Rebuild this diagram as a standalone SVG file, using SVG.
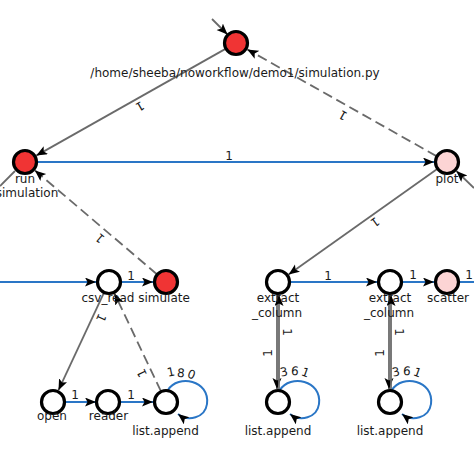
<svg xmlns="http://www.w3.org/2000/svg" width="474" height="474" viewBox="0 0 474 474">
<style>
.bg{fill:#ffffff}
.n{stroke:#000;stroke-width:3.2}
.red{fill:#f03434}
.pink{fill:#fcd4d4}
.white{fill:#ffffff}
.g{stroke:#6a6a6a;stroke-width:1.8;fill:none}
.d{stroke:#6a6a6a;stroke-width:1.8;fill:none;stroke-dasharray:10,5}
.b{stroke:#2a76c6;stroke-width:2;fill:none}
.lab{font-family:"DejaVu Sans","Liberation Sans",sans-serif;font-size:12px;fill:#1a1a1a;text-anchor:middle}
</style>
<defs>
<marker id="ah" markerUnits="userSpaceOnUse" markerWidth="12" markerHeight="10" refX="11" refY="4.5" orient="auto">
<path d="M0,0 L11,4.5 L0,9 L2.5,4.5 z" fill="#000"/>
</marker>
</defs>
<rect class="bg" x="0" y="0" width="474" height="474"/>
<g id="connectors">
<line class="g" x1="212" y1="19" x2="227.5" y2="34.5" marker-end="url(#ah)"/>
<line class="g" x1="225.5" y1="48.9" x2="36.3" y2="155.6" marker-end="url(#ah)"/>
<line class="d" x1="436.5" y1="156.1" x2="247.3" y2="49.4" marker-end="url(#ah)"/>
<line class="b" x1="37" y1="162" x2="434" y2="162" marker-end="url(#ah)"/>
<line class="g" x1="474" y1="188" x2="456.4" y2="171" marker-end="url(#ah)"/>
<line class="g" x1="15" y1="171" x2="0" y2="186"/>
<line class="g" x1="437.2" y1="169" x2="288.6" y2="274.5" marker-end="url(#ah)"/>
<line class="d" x1="156.9" y1="274.2" x2="34.9" y2="170.4" marker-end="url(#ah)"/>
<line class="b" x1="0" y1="282" x2="96" y2="282" marker-end="url(#ah)"/>
<line class="b" x1="121" y1="282" x2="153" y2="282" marker-end="url(#ah)"/>
<line class="b" x1="290" y1="282" x2="377" y2="282" marker-end="url(#ah)"/>
<line class="b" x1="402" y1="282" x2="434" y2="282" marker-end="url(#ah)"/>
<line class="b" x1="459" y1="282" x2="474" y2="282"/>
<line class="g" x1="103.9" y1="292.9" x2="58.5" y2="390.2" marker-end="url(#ah)"/>
<line class="d" x1="160.9" y1="391.2" x2="114.6" y2="293.7" marker-end="url(#ah)"/>
<line class="b" x1="65" y1="402" x2="96" y2="402" marker-end="url(#ah)"/>
<line class="b" x1="120" y1="402" x2="153" y2="402" marker-end="url(#ah)"/>
<path class="b" d="M168,390 C178,374 210,380 207,404 C205,418 188,422 178,414" marker-end="url(#ah)"/>
<line class="g" x1="277" y1="294" x2="277" y2="389" marker-end="url(#ah)"/>
<line class="g" x1="279" y1="390" x2="279" y2="295" marker-end="url(#ah)"/>
<path class="b" d="M280,390 C290,374 322,380 319,404 C317,418 300,422 290,414" marker-end="url(#ah)"/>
<line class="g" x1="389" y1="294" x2="389" y2="389" marker-end="url(#ah)"/>
<line class="g" x1="391" y1="390" x2="391" y2="295" marker-end="url(#ah)"/>
<path class="b" d="M392,390 C402,374 434,380 431,404 C429,418 412,422 402,414" marker-end="url(#ah)"/>
<text class="lab" transform="translate(140,106) rotate(150.6)" y="4">1</text>
<text class="lab" transform="translate(343,115) rotate(-150.6)" y="4">1</text>
<text class="lab" x="229" y="160">1</text>
<text class="lab" transform="translate(375,222) rotate(144.6)" y="4">1</text>
<text class="lab" transform="translate(100,238) rotate(-139.6)" y="4">1</text>
<text class="lab" x="131" y="280">1</text>
<text class="lab" x="328" y="280">1</text>
<text class="lab" x="413" y="279">1</text>
<text class="lab" x="469" y="279">1</text>
<text class="lab" transform="translate(101,318) rotate(115)" y="4">1</text>
<text class="lab" transform="translate(142,373) rotate(-115.4)" y="4">1</text>
<text class="lab" x="75" y="399">1</text>
<text class="lab" x="131" y="399">1</text>
<text class="lab" transform="translate(287,332) rotate(90)" y="4">1</text>
<text class="lab" transform="translate(268,353) rotate(-90)" y="4">1</text>
<text class="lab" transform="translate(399,332) rotate(90)" y="4">1</text>
<text class="lab" transform="translate(380,353) rotate(-90)" y="4">1</text>
<text class="lab" transform="translate(171,372) rotate(-12)" y="4">1</text>
<text class="lab" transform="translate(181,373) rotate(5)" y="4">8</text>
<text class="lab" transform="translate(191.5,374.5) rotate(20)" y="4">0</text>
<text class="lab" transform="translate(284,372) rotate(-12)" y="4">3</text>
<text class="lab" transform="translate(295,371) rotate(5)" y="4">6</text>
<text class="lab" transform="translate(305.5,372.5) rotate(20)" y="4">1</text>
<text class="lab" transform="translate(396,372) rotate(-12)" y="4">3</text>
<text class="lab" transform="translate(407,371) rotate(5)" y="4">6</text>
<text class="lab" transform="translate(417.5,372.5) rotate(20)" y="4">1</text>
</g>
<g id="node-simulation-py">
<circle class="n red" cx="236" cy="43" r="11.5"/>
<text class="lab" x="235" y="77">/home/sheeba/noworkflow/demo1/simulation.py</text>
</g>
<g id="node-run-simulation">
<circle class="n red" cx="25" cy="162" r="11.5"/>
<text class="lab" x="25" y="183">run</text>
<text class="lab" x="27" y="197">simulation</text>
</g>
<g id="node-plot">
<circle class="n pink" cx="447" cy="162" r="11.5"/>
<text class="lab" x="447" y="183">plot</text>
</g>
<g id="node-csv-read">
<circle class="n white" cx="109" cy="282" r="11.5"/>
<text class="lab" x="108" y="302">csv_read</text>
</g>
<g id="node-simulate">
<circle class="n red" cx="166" cy="282" r="11.5"/>
<text class="lab" x="164" y="302">simulate</text>
</g>
<g id="node-extract-column-1">
<circle class="n white" cx="278" cy="282" r="11.5"/>
<text class="lab" x="278" y="302">extract</text>
<text class="lab" x="277" y="317">_column</text>
</g>
<g id="node-extract-column-2">
<circle class="n white" cx="390" cy="282" r="11.5"/>
<text class="lab" x="390" y="302">extract</text>
<text class="lab" x="389" y="317">_column</text>
</g>
<g id="node-scatter">
<circle class="n pink" cx="447" cy="282" r="11.5"/>
<text class="lab" x="448" y="302">scatter</text>
</g>
<g id="node-open">
<circle class="n white" cx="53" cy="402" r="11.5"/>
<text class="lab" x="52" y="420">open</text>
</g>
<g id="node-reader">
<circle class="n white" cx="108" cy="402" r="11.5"/>
<text class="lab" x="108.5" y="420">reader</text>
</g>
<g id="node-list-append-1">
<circle class="n white" cx="166" cy="402" r="11.5"/>
<text class="lab" x="165.5" y="435">list.append</text>
</g>
<g id="node-list-append-2">
<circle class="n white" cx="278" cy="402" r="11.5"/>
<text class="lab" x="278" y="435">list.append</text>
</g>
<g id="node-list-append-3">
<circle class="n white" cx="390" cy="402" r="11.5"/>
<text class="lab" x="390" y="435">list.append</text>
</g>
</svg>
